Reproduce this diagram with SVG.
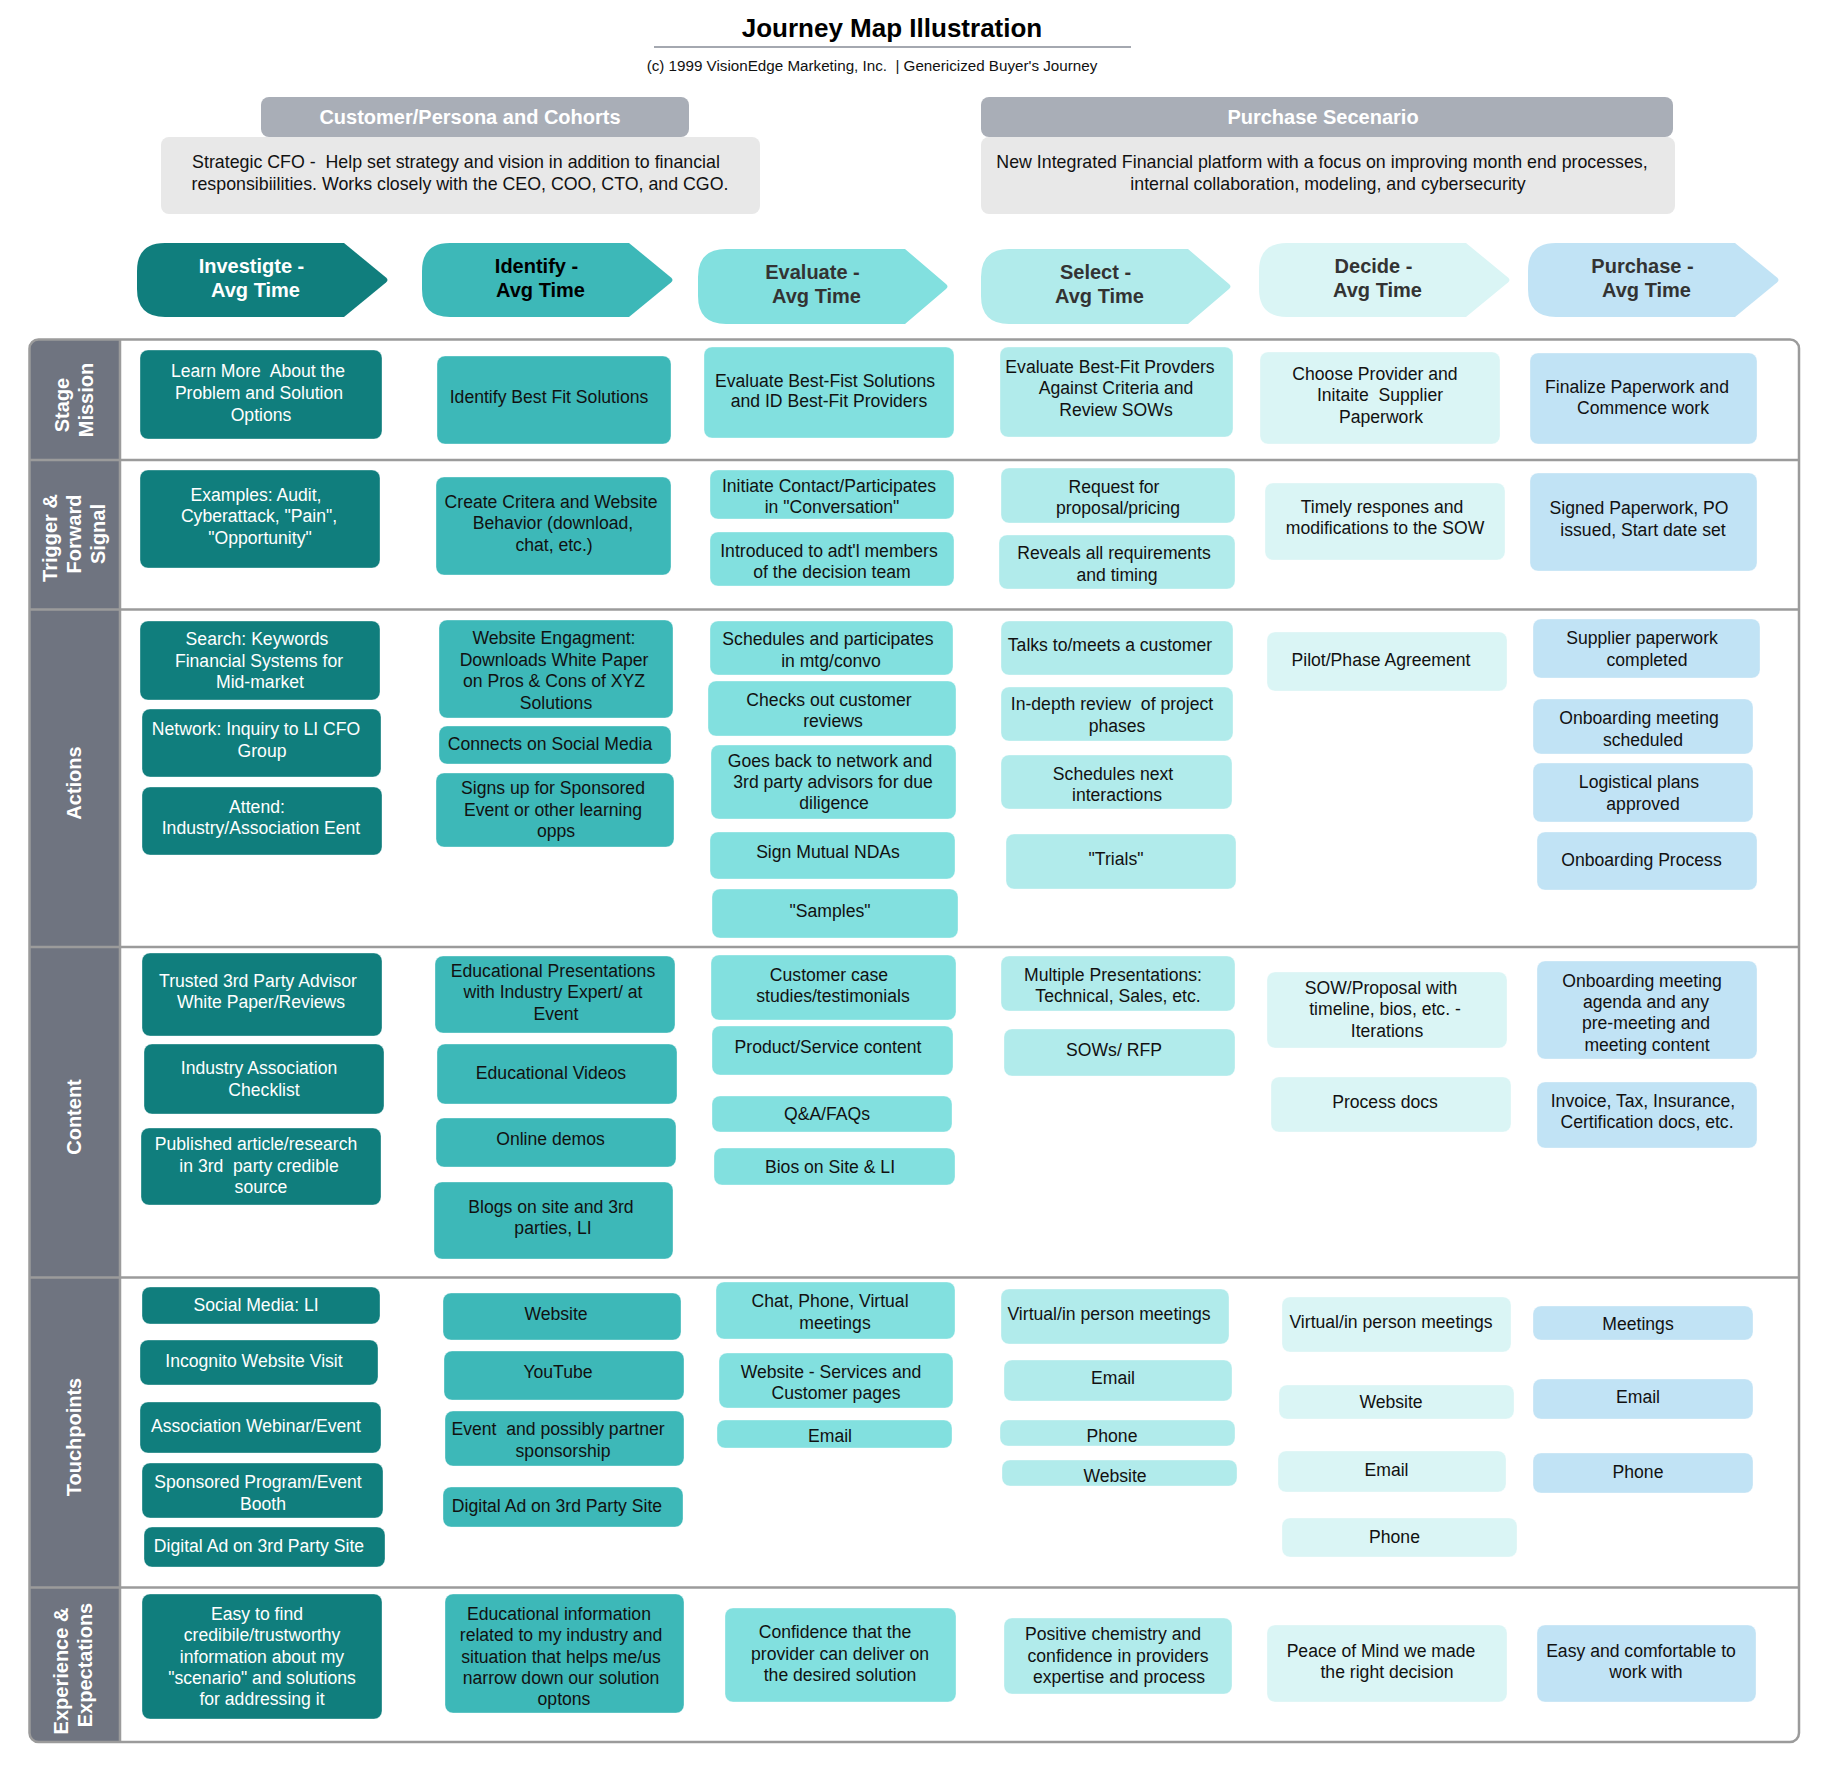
<svg xmlns="http://www.w3.org/2000/svg" width="1842" height="1780" viewBox="0 0 1842 1780">
<style>
text{font-family:"Liberation Sans",Arial,sans-serif}
.t{font-size:17.6px;text-anchor:middle;fill:#111}
.w{fill:#fff}
.b{rx:8px;ry:8px;stroke:#ffffff;stroke-opacity:.35;stroke-width:1}
.c1{fill:#107e7d}.c2{fill:#3db8b8}.c3{fill:#82e0df}.c4{fill:#b1ebeb}.c5{fill:#daf5f5}.c6{fill:#c1e3f5}
.hd{fill:#a9aeb7}.ds{fill:#e8e8e8}
.ht{font-size:20px;font-weight:bold;fill:#fff;text-anchor:middle}
.ct{font-size:20px;font-weight:bold;text-anchor:middle}
.rl{font-size:20px;font-weight:bold;fill:#fff;text-anchor:middle}
.ln{stroke:#9b9b9b;stroke-width:2.5;fill:none}
</style>
<rect width="1842" height="1780" fill="#fff"/>
<g id="title">
<text x="892" y="37" style="font-size:26px;font-weight:bold;text-anchor:middle" fill="#000">Journey Map Illustration</text>
<line x1="654" y1="47" x2="1131" y2="47" stroke="#a4a8b0" stroke-width="2"/>
<text x="872" y="71" style="font-size:15.2px;text-anchor:middle" fill="#111">(c) 1999 VisionEdge Marketing, Inc.&#160; | Genericized Buyer's Journey</text>
</g>
<g id="persona">
<rect x="161" y="137" width="599" height="77" rx="8" class="ds"/>
<rect x="261" y="97" width="428" height="40" rx="8" class="hd"/>
<text x="470" y="123.5" class="ht">Customer/Persona and Cohorts</text>
<text class="t" style="font-size:17.8px"><tspan x="456" y="168">Strategic CFO -&#160; Help set strategy and vision in addition to financial</tspan><tspan x="460" y="189.5">responsibiilities. Works closely with the CEO, COO, CTO, and CGO.</tspan></text>
</g>
<g id="scenario">
<rect x="981" y="137" width="694" height="77" rx="8" class="ds"/>
<rect x="981" y="97" width="692" height="40" rx="8" class="hd"/>
<text x="1323" y="123.5" class="ht">Purchase Secenario</text>
<text class="t" style="font-size:17.8px"><tspan x="1322" y="168">New Integrated Financial platform with a focus on improving month end processes,</tspan><tspan x="1328" y="189.5">internal collaboration, modeling, and cybersecurity</tspan></text>
</g>
<g id="stages">
<g id="stage-investigate"><path class="c1" d="M165,243 H344 L386,277.5 Q389,280 386,282.5 L344,317 H165 Q137,317 137,289 V271 Q137,243 165,243 Z"/><text class="ct" fill="#fff"><tspan x="251.5" y="273.3">Investigte -</tspan><tspan x="255.5" y="296.7">Avg Time</tspan></text></g>
<g id="stage-identify"><path class="c2" d="M450,243 H629 L671,277.5 Q674,280 671,282.5 L629,317 H450 Q422,317 422,289 V271 Q422,243 450,243 Z"/><text class="ct" fill="#000"><tspan x="536.5" y="273.3">Identify -</tspan><tspan x="540.5" y="296.7">Avg Time</tspan></text></g>
<g id="stage-evaluate"><path class="c3" d="M726,249 H905 L946,284 Q949,286.5 946,289 L905,324 H726 Q698,324 698,296 V277 Q698,249 726,249 Z"/><text class="ct" fill="#333"><tspan x="812.5" y="279.3">Evaluate -</tspan><tspan x="816.5" y="302.7">Avg Time</tspan></text></g>
<g id="stage-select"><path class="c4" d="M1009,249 H1188 L1229,284 Q1232,286.5 1229,289 L1188,324 H1009 Q981,324 981,296 V277 Q981,249 1009,249 Z"/><text class="ct" fill="#333"><tspan x="1095.5" y="279.3">Select -</tspan><tspan x="1099.5" y="302.7">Avg Time</tspan></text></g>
<g id="stage-decide"><path class="c5" d="M1287,243 H1466 L1508,277.5 Q1511,280 1508,282.5 L1466,317 H1287 Q1259,317 1259,289 V271 Q1259,243 1287,243 Z"/><text class="ct" fill="#333"><tspan x="1373.5" y="273.3">Decide -</tspan><tspan x="1377.5" y="296.7">Avg Time</tspan></text></g>
<g id="stage-purchase"><path class="c6" d="M1556,243 H1735 L1777,277.5 Q1780,280 1777,282.5 L1735,317 H1556 Q1528,317 1528,289 V271 Q1528,243 1556,243 Z"/><text class="ct" fill="#333"><tspan x="1642.5" y="273.3">Purchase -</tspan><tspan x="1646.5" y="296.7">Avg Time</tspan></text></g>
</g>
<g id="grid">
<rect x="29.5" y="339.5" width="1769.5" height="1402.5" rx="9" fill="#fff"/>
<rect x="29.5" y="339.5" width="90.5" height="1402.5" rx="9" fill="#6f7480"/>
<rect x="100" y="339.5" width="20" height="1402.5" fill="#6f7480"/>
<line class="ln" x1="120" y1="339.5" x2="120" y2="1742"/>
<line class="ln" x1="29.5" y1="460" x2="1799" y2="460"/>
<line class="ln" x1="29.5" y1="609.5" x2="1799" y2="609.5"/>
<line class="ln" x1="29.5" y1="947" x2="1799" y2="947"/>
<line class="ln" x1="29.5" y1="1277.5" x2="1799" y2="1277.5"/>
<line class="ln" x1="29.5" y1="1587.5" x2="1799" y2="1587.5"/>
<rect class="ln" x="29.5" y="339.5" width="1769.5" height="1402.5" rx="9"/>
</g>
<g id="row-labels">
<g id="lbl-stage"><text class="rl" transform="rotate(-90 69 405)" x="69" y="405">Stage</text><text class="rl" transform="rotate(-90 93 400)" x="93" y="400">Mission</text></g>
<g id="lbl-trigger"><text class="rl" transform="rotate(-90 56.5 538)" x="56.5" y="538">Trigger &amp;</text><text class="rl" transform="rotate(-90 80.5 534)" x="80.5" y="534">Forward</text><text class="rl" transform="rotate(-90 104.5 534)" x="104.5" y="534">Signal</text></g>
<g id="lbl-actions"><text class="rl" transform="rotate(-90 81 783)" x="81" y="783">Actions</text></g>
<g id="lbl-content"><text class="rl" transform="rotate(-90 81 1117)" x="81" y="1117">Content</text></g>
<g id="lbl-touch"><text class="rl" transform="rotate(-90 80.5 1437)" x="80.5" y="1437">Touchpoints</text></g>
<g id="lbl-exp"><text class="rl" transform="rotate(-90 68 1671)" x="68" y="1671">Experience &amp;</text><text class="rl" transform="rotate(-90 92 1665)" x="92" y="1665">Expectations</text></g>
</g>
<g id="col1">
<g id="n-stage-1"><rect class="b c1" x="140" y="350" width="242" height="89"/><text class="t w"><tspan x="258" y="377">Learn More&#160; About the</tspan><tspan x="259" y="399">Problem and Solution</tspan><tspan x="261" y="420.7">Options</tspan></text></g>
<g id="n-trig-1"><rect class="b c1" x="140" y="470" width="240" height="98"/><text class="t w"><tspan x="256" y="501">Examples: Audit,</tspan><tspan x="259" y="522.3">Cyberattack, "Pain",</tspan><tspan x="260" y="543.7">"Opportunity"</tspan></text></g>
<g id="n-act-1a"><rect class="b c1" x="140" y="621" width="240" height="79"/><text class="t w"><tspan x="257" y="645">Search: Keywords</tspan><tspan x="259" y="666.7">Financial Systems for</tspan><tspan x="260" y="687.7">Mid-market</tspan></text></g>
<g id="n-act-1b"><rect class="b c1" x="142" y="709" width="239" height="68"/><text class="t w"><tspan x="256" y="735">Network: Inquiry to LI CFO</tspan><tspan x="262" y="756.7">Group</tspan></text></g>
<g id="n-act-1c"><rect class="b c1" x="142" y="787" width="240" height="68"/><text class="t w"><tspan x="257" y="812.7">Attend:</tspan><tspan x="261" y="833.7">Industry/Association Eent</tspan></text></g>
<g id="n-cont-1a"><rect class="b c1" x="142" y="953" width="240" height="83"/><text class="t w"><tspan x="258" y="986.7">Trusted 3rd Party Advisor</tspan><tspan x="261" y="1008.3">White Paper/Reviews</tspan></text></g>
<g id="n-cont-1b"><rect class="b c1" x="144" y="1044" width="240" height="70"/><text class="t w"><tspan x="259" y="1074">Industry Association</tspan><tspan x="264" y="1095.7">Checklist</tspan></text></g>
<g id="n-cont-1c"><rect class="b c1" x="141" y="1128" width="240" height="77"/><text class="t w"><tspan x="256" y="1150">Published article/research</tspan><tspan x="259" y="1171.7">in 3rd&#160; party credible</tspan><tspan x="261" y="1192.7">source</tspan></text></g>
<g id="n-tp-1a"><rect class="b c1" x="142" y="1287" width="238" height="37"/><text class="t w" x="256" y="1310.7">Social Media: LI</text></g>
<g id="n-tp-1b"><rect class="b c1" x="140" y="1340" width="238" height="45"/><text class="t w" x="254" y="1366.7">Incognito Website Visit</text></g>
<g id="n-tp-1c"><rect class="b c1" x="140" y="1402" width="241" height="51"/><text class="t w" x="256" y="1432.3">Association Webinar/Event</text></g>
<g id="n-tp-1d"><rect class="b c1" x="142" y="1463" width="241" height="55"/><text class="t w"><tspan x="258" y="1488.3">Sponsored Program/Event</tspan><tspan x="263" y="1510">Booth</tspan></text></g>
<g id="n-tp-1e"><rect class="b c1" x="144" y="1527" width="241" height="40"/><text class="t w" x="259" y="1551.7">Digital Ad on 3rd Party Site</text></g>
<g id="n-exp-1"><rect class="b c1" x="142" y="1594" width="240" height="125"/><text class="t w"><tspan x="257" y="1620">Easy to find</tspan><tspan x="262" y="1641">credibile/trustworthy</tspan><tspan x="262" y="1662.7">information about my</tspan><tspan x="262" y="1684">"scenario" and solutions</tspan><tspan x="262" y="1705">for addressing it</tspan></text></g>
</g>
<g id="col2">
<g id="n-stage-2"><rect class="b c2" x="437" y="356" width="234" height="88"/><text class="t" x="549" y="403.3">Identify Best Fit Solutions</text></g>
<g id="n-trig-2"><rect class="b c2" x="436" y="477" width="235" height="98"/><text class="t"><tspan x="551" y="507.7">Create Critera and Website</tspan><tspan x="553" y="529">Behavior (download,</tspan><tspan x="554" y="551">chat, etc.)</tspan></text></g>
<g id="n-act-2a"><rect class="b c2" x="439" y="620" width="234" height="98"/><text class="t"><tspan x="554" y="644.3">Website Engagment:</tspan><tspan x="554" y="666">Downloads White Paper</tspan><tspan x="554" y="687.3">on Pros &amp; Cons of XYZ</tspan><tspan x="556" y="709">Solutions</tspan></text></g>
<g id="n-act-2b"><rect class="b c2" x="439" y="726" width="232" height="38"/><text class="t" x="550" y="750">Connects on Social Media</text></g>
<g id="n-act-2c"><rect class="b c2" x="436" y="773" width="238" height="74"/><text class="t"><tspan x="553" y="794.3">Signs up for Sponsored</tspan><tspan x="553" y="815.7">Event or other learning</tspan><tspan x="556" y="837.3">opps</tspan></text></g>
<g id="n-cont-2a"><rect class="b c2" x="435" y="956" width="240" height="77"/><text class="t"><tspan x="553" y="977.3">Educational Presentations</tspan><tspan x="553" y="998.3">with Industry Expert/ at</tspan><tspan x="556" y="1020">Event</tspan></text></g>
<g id="n-cont-2b"><rect class="b c2" x="437" y="1044" width="240" height="60"/><text class="t" x="551" y="1079.3">Educational Videos</text></g>
<g id="n-cont-2c"><rect class="b c2" x="436" y="1118" width="240" height="49"/><text class="t" x="550.5" y="1145">Online demos</text></g>
<g id="n-cont-2d"><rect class="b c2" x="434" y="1182" width="239" height="77"/><text class="t"><tspan x="551" y="1212.7">Blogs on site and 3rd</tspan><tspan x="553" y="1234">parties, LI</tspan></text></g>
<g id="n-tp-2a"><rect class="b c2" x="443" y="1293" width="238" height="47"/><text class="t" x="556" y="1320">Website</text></g>
<g id="n-tp-2b"><rect class="b c2" x="444" y="1351" width="240" height="49"/><text class="t" x="558" y="1378.3">YouTube</text></g>
<g id="n-tp-2c"><rect class="b c2" x="445" y="1411" width="239" height="55"/><text class="t"><tspan x="558" y="1435">Event&#160; and possibly partner</tspan><tspan x="563" y="1456.7">sponsorship</tspan></text></g>
<g id="n-tp-2d"><rect class="b c2" x="443" y="1487" width="240" height="40"/><text class="t" x="557" y="1511.7">Digital Ad on 3rd Party Site</text></g>
<g id="n-exp-2"><rect class="b c2" x="445" y="1594" width="239" height="119"/><text class="t"><tspan x="559" y="1620">Educational information</tspan><tspan x="561" y="1641">related to my industry and</tspan><tspan x="561" y="1662.7">situation that helps me/us</tspan><tspan x="561" y="1684">narrow down our solution</tspan><tspan x="564" y="1705">optons</tspan></text></g>
</g>
<g id="col3">
<g id="n-stage-3"><rect class="b c3" x="704" y="347" width="250" height="91"/><text class="t"><tspan x="825" y="386.7">Evaluate Best-Fist Solutions</tspan><tspan x="829" y="407.3">and ID Best-Fit Providers</tspan></text></g>
<g id="n-trig-3a"><rect class="b c3" x="710" y="470" width="244" height="49"/><text class="t"><tspan x="829" y="491.7">Initiate Contact/Participates</tspan><tspan x="832" y="512.7">in "Conversation"</tspan></text></g>
<g id="n-trig-3b"><rect class="b c3" x="710" y="532" width="244" height="54"/><text class="t"><tspan x="829" y="556.7">Introduced to adt'l members</tspan><tspan x="832" y="578.3">of the decision team</tspan></text></g>
<g id="n-act-3a"><rect class="b c3" x="710" y="621" width="243" height="54"/><text class="t"><tspan x="828" y="645">Schedules and participates</tspan><tspan x="831" y="666.7">in mtg/convo</tspan></text></g>
<g id="n-act-3b"><rect class="b c3" x="708" y="681" width="248" height="55"/><text class="t"><tspan x="829" y="705.7">Checks out customer</tspan><tspan x="833" y="726.7">reviews</tspan></text></g>
<g id="n-act-3c"><rect class="b c3" x="711" y="745" width="245" height="74"/><text class="t"><tspan x="830" y="766.7">Goes back to network and</tspan><tspan x="833" y="788.3">3rd party advisors for due</tspan><tspan x="834" y="809.3">diligence</tspan></text></g>
<g id="n-act-3d"><rect class="b c3" x="710" y="832" width="245" height="47"/><text class="t" x="828" y="858.3">Sign Mutual NDAs</text></g>
<g id="n-act-3e"><rect class="b c3" x="712" y="889" width="246" height="49"/><text class="t" x="830" y="916.7">"Samples"</text></g>
<g id="n-cont-3a"><rect class="b c3" x="711" y="955" width="245" height="65"/><text class="t"><tspan x="829" y="980.7">Customer case</tspan><tspan x="833" y="1002.3">studies/testimonials</tspan></text></g>
<g id="n-cont-3b"><rect class="b c3" x="712" y="1026" width="241" height="49"/><text class="t" x="828" y="1053.3">Product/Service content</text></g>
<g id="n-cont-3c"><rect class="b c3" x="712" y="1096" width="240" height="36"/><text class="t" x="827" y="1120">Q&amp;A/FAQs</text></g>
<g id="n-cont-3d"><rect class="b c3" x="714" y="1148" width="241" height="37"/><text class="t" x="830" y="1172.7">Bios on Site &amp; LI</text></g>
<g id="n-tp-3a"><rect class="b c3" x="716" y="1282" width="239" height="57"/><text class="t"><tspan x="830" y="1307.3">Chat, Phone, Virtual</tspan><tspan x="835" y="1329">meetings</tspan></text></g>
<g id="n-tp-3b"><rect class="b c3" x="719" y="1353" width="234" height="55"/><text class="t"><tspan x="831" y="1377.7">Website - Services and</tspan><tspan x="836" y="1399.3">Customer pages</tspan></text></g>
<g id="n-tp-3c"><rect class="b c3" x="717" y="1420" width="235" height="28"/><text class="t" x="830" y="1442.3">Email</text></g>
<g id="n-exp-3"><rect class="b c3" x="725" y="1608" width="231" height="94"/><text class="t"><tspan x="835" y="1638.3">Confidence that the</tspan><tspan x="840" y="1660">provider can deliver on</tspan><tspan x="840" y="1681">the desired solution</tspan></text></g>
</g>
<g id="col4">
<g id="n-stage-4"><rect class="b c4" x="1000" y="347" width="233" height="90"/><text class="t"><tspan x="1110" y="373.3">Evaluate Best-Fit Provders</tspan><tspan x="1116" y="394.3">Against Criteria and</tspan><tspan x="1116" y="416">Review SOWs</tspan></text></g>
<g id="n-trig-4a"><rect class="b c4" x="1001" y="468" width="234" height="55"/><text class="t"><tspan x="1114" y="492.7">Request for</tspan><tspan x="1118" y="514">proposal/pricing</tspan></text></g>
<g id="n-trig-4b"><rect class="b c4" x="999" y="535" width="236" height="54"/><text class="t"><tspan x="1114" y="559.3">Reveals all requirements</tspan><tspan x="1117" y="581">and timing</tspan></text></g>
<g id="n-act-4a"><rect class="b c4" x="1001" y="621" width="232" height="54"/><text class="t" x="1110" y="650.7">Talks to/meets a customer</text></g>
<g id="n-act-4b"><rect class="b c4" x="1001" y="687" width="232" height="54"/><text class="t"><tspan x="1112" y="710">In-depth review&#160; of project</tspan><tspan x="1117" y="731.7">phases</tspan></text></g>
<g id="n-act-4c"><rect class="b c4" x="1001" y="755" width="231" height="54"/><text class="t"><tspan x="1113" y="780">Schedules next</tspan><tspan x="1117" y="801">interactions</tspan></text></g>
<g id="n-act-4d"><rect class="b c4" x="1006" y="834" width="230" height="55"/><text class="t" x="1116" y="865">"Trials"</text></g>
<g id="n-cont-4a"><rect class="b c4" x="1001" y="956" width="234" height="55"/><text class="t"><tspan x="1113" y="980.7">Multiple Presentations:</tspan><tspan x="1118" y="1002.3">Technical, Sales, etc.</tspan></text></g>
<g id="n-cont-4b"><rect class="b c4" x="1004" y="1029" width="231" height="47"/><text class="t" x="1114" y="1056">SOWs/ RFP</text></g>
<g id="n-tp-4a"><rect class="b c4" x="1001" y="1289" width="228" height="55"/><text class="t" x="1109" y="1320">Virtual/in person meetings</text></g>
<g id="n-tp-4b"><rect class="b c4" x="1004" y="1360" width="228" height="41"/><text class="t" x="1113" y="1384">Email</text></g>
<g id="n-tp-4c"><rect class="b c4" x="1000" y="1420" width="235" height="26"/><text class="t" x="1112" y="1442.3">Phone</text></g>
<g id="n-tp-4d"><rect class="b c4" x="1002" y="1460" width="235" height="26"/><text class="t" x="1115" y="1481.7">Website</text></g>
<g id="n-exp-4"><rect class="b c4" x="1004" y="1618" width="228" height="76"/><text class="t"><tspan x="1113" y="1640">Positive chemistry and</tspan><tspan x="1118" y="1661.7">confidence in providers</tspan><tspan x="1119" y="1682.7">expertise and process</tspan></text></g>
</g>
<g id="col5">
<g id="n-stage-5"><rect class="b c5" x="1260" y="352" width="240" height="92"/><text class="t"><tspan x="1375" y="380">Choose Provider and</tspan><tspan x="1380" y="401">Initaite&#160; Supplier</tspan><tspan x="1381" y="422.7">Paperwork</tspan></text></g>
<g id="n-trig-5"><rect class="b c5" x="1265" y="483" width="240" height="77"/><text class="t"><tspan x="1382" y="513.3">Timely respones and</tspan><tspan x="1385" y="534.3">modifications to the SOW</tspan></text></g>
<g id="n-act-5"><rect class="b c5" x="1267" y="632" width="240" height="59"/><text class="t" x="1381" y="665.7">Pilot/Phase Agreement</text></g>
<g id="n-cont-5a"><rect class="b c5" x="1267" y="972" width="240" height="76"/><text class="t"><tspan x="1381" y="994">SOW/Proposal with</tspan><tspan x="1385" y="1015">timeline, bios, etc. -</tspan><tspan x="1387" y="1036.7">Iterations</tspan></text></g>
<g id="n-cont-5b"><rect class="b c5" x="1271" y="1077" width="240" height="55"/><text class="t" x="1385" y="1108.3">Process docs</text></g>
<g id="n-tp-5a"><rect class="b c5" x="1282" y="1297" width="229" height="55"/><text class="t" x="1391" y="1328.3">Virtual/in person meetings</text></g>
<g id="n-tp-5b"><rect class="b c5" x="1279" y="1385" width="235" height="34"/><text class="t" x="1391" y="1408.3">Website</text></g>
<g id="n-tp-5c"><rect class="b c5" x="1278" y="1451" width="228" height="41"/><text class="t" x="1386.5" y="1475.7">Email</text></g>
<g id="n-tp-5d"><rect class="b c5" x="1282" y="1518" width="235" height="39"/><text class="t" x="1394.5" y="1543.3">Phone</text></g>
<g id="n-exp-5"><rect class="b c5" x="1267" y="1625" width="240" height="77"/><text class="t"><tspan x="1381" y="1656.7">Peace of Mind we made</tspan><tspan x="1387" y="1677.7">the right decision</tspan></text></g>
</g>
<g id="col6">
<g id="n-stage-6"><rect class="b c6" x="1530" y="353" width="227" height="91"/><text class="t"><tspan x="1637" y="393.3">Finalize Paperwork and</tspan><tspan x="1643" y="414.3">Commence work</tspan></text></g>
<g id="n-trig-6"><rect class="b c6" x="1530" y="473" width="227" height="98"/><text class="t"><tspan x="1639" y="514.3">Signed Paperwork, PO</tspan><tspan x="1643" y="535.7">issued, Start date set</tspan></text></g>
<g id="n-act-6a"><rect class="b c6" x="1533" y="619" width="227" height="59"/><text class="t"><tspan x="1642" y="644.3">Supplier paperwork</tspan><tspan x="1647" y="665.7">completed</tspan></text></g>
<g id="n-act-6b"><rect class="b c6" x="1533" y="699" width="220" height="55"/><text class="t"><tspan x="1639" y="724.3">Onboarding meeting</tspan><tspan x="1643" y="745.7">scheduled</tspan></text></g>
<g id="n-act-6c"><rect class="b c6" x="1533" y="763" width="220" height="59"/><text class="t"><tspan x="1639" y="788.3">Logistical plans</tspan><tspan x="1643" y="810">approved</tspan></text></g>
<g id="n-act-6d"><rect class="b c6" x="1537" y="832" width="220" height="58"/><text class="t" x="1641.5" y="865.7">Onboarding Process</text></g>
<g id="n-cont-6a"><rect class="b c6" x="1537" y="961" width="220" height="98"/><text class="t"><tspan x="1642" y="986.7">Onboarding meeting</tspan><tspan x="1646" y="1008.3">agenda and any</tspan><tspan x="1646" y="1029.3">pre-meeting and</tspan><tspan x="1647" y="1050.7">meeting content</tspan></text></g>
<g id="n-cont-6b"><rect class="b c6" x="1537" y="1082" width="220" height="66"/><text class="t"><tspan x="1643" y="1107.3">Invoice, Tax, Insurance,</tspan><tspan x="1647" y="1128.3">Certification docs, etc.</tspan></text></g>
<g id="n-tp-6a"><rect class="b c6" x="1533" y="1306" width="220" height="34"/><text class="t" x="1638" y="1330">Meetings</text></g>
<g id="n-tp-6b"><rect class="b c6" x="1533" y="1379" width="220" height="40"/><text class="t" x="1638" y="1403.3">Email</text></g>
<g id="n-tp-6c"><rect class="b c6" x="1533" y="1453" width="220" height="40"/><text class="t" x="1638" y="1477.7">Phone</text></g>
<g id="n-exp-6"><rect class="b c6" x="1537" y="1625" width="219" height="77"/><text class="t"><tspan x="1641" y="1656.7">Easy and comfortable to</tspan><tspan x="1646" y="1677.7">work with</tspan></text></g>
</g>
<g id="connectors"></g>
</svg>
